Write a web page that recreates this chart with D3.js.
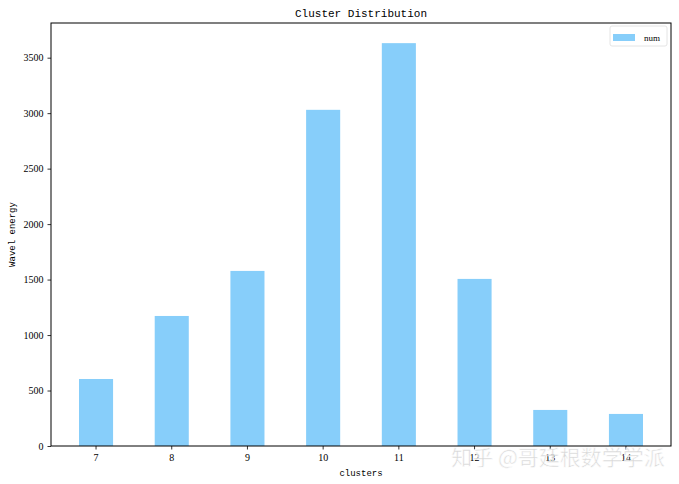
<!DOCTYPE html>
<html>
<head>
<meta charset="utf-8">
<script src="https://cdn.jsdelivr.net/npm/d3@7"></script>
<style>
  body { margin: 0; background: #fff; }
  text { font-family: "Liberation Mono", "DejaVu Sans Mono", monospace; }
</style>
</head>
<body>
<div id="chart"></div>
<script>
// Data
const clusters = ['7', '8', '9', '10', '11', '12', '13', '14']
const num = [604, 1172, 1578, 3030, 3631, 1506, 325, 289]
const yTicks = [0, 500, 1000, 1500, 2000, 2500, 3000, 3500]

// Chart dimensions
const width = 679
const height = 484
const margin = { top: 23, right: 8, bottom: 38, left: 51 }
const graphWidth = width - margin.left - margin.right
const graphHeight = height - margin.top - margin.bottom

const svg = d3.select('#chart')
    .append('svg')
    .attr('width', width)
    .attr('height', height)

const g = svg.append('g')
    .attr('transform', `translate(${margin.left}, ${margin.top})`)

// Scales
const x = d3.scaleBand()
    .domain(clusters)
    .range([0, graphWidth])
    .paddingInner(0.55)
    .paddingOuter(0.37)

const y = d3.scaleLinear()
    .domain([0, d3.max(num) * 1.05])
    .range([graphHeight, 0])

// Bars
g.selectAll('rect.bar')
    .data(clusters)
    .enter()
    .append('rect')
    .attr('class', 'bar')
    .attr('x', d => x(d))
    .attr('y', (d, i) => y(num[i]))
    .attr('width', x.bandwidth())
    .attr('height', (d, i) => graphHeight - y(num[i]))
    .attr('fill', '#87cefa')

// Axes
const xAxis = g.append('g')
    .attr('transform', `translate(0, ${graphHeight})`)
    .call(d3.axisBottom(x).tickSize(3.5).tickSizeOuter(0).tickPadding(4))
const yAxis = g.append('g')
    .call(d3.axisLeft(y).tickValues(yTicks).tickFormat(d3.format('d'))
        .tickSize(3.5).tickSizeOuter(0).tickPadding(4))

;[xAxis, yAxis].forEach(a => {
    a.select('.domain').remove()
    a.selectAll('line').style('stroke', '#000').style('stroke-width', 0.8)
    a.selectAll('text')
        .style('font-size', '10px')
        .style('font-family', '"Liberation Serif", "DejaVu Serif", serif')
        .style('fill', '#000')
})

// Frame
g.append('rect')
    .attr('width', graphWidth)
    .attr('height', graphHeight)
    .attr('fill', 'none')
    .attr('stroke', '#000')
    .attr('stroke-width', 1)

// Title and labels
svg.append('text')
    .attr('x', margin.left + graphWidth / 2)
    .attr('y', 17)
    .attr('text-anchor', 'middle')
    .style('font-size', '11px')
    .text('Cluster Distribution')

svg.append('text')
    .attr('x', margin.left + graphWidth / 2)
    .attr('y', 476)
    .attr('text-anchor', 'middle')
    .style('font-size', '9px')
    .text('clusters')

svg.append('text')
    .attr('transform', `translate(15, ${margin.top + graphHeight / 2}) rotate(-90)`)
    .attr('text-anchor', 'middle')
    .style('font-size', '9px')
    .text('Wavel energy')

// Legend
const legend = svg.append('g')
    .attr('transform', 'translate(610, 26)')
legend.append('rect')
    .attr('width', 57)
    .attr('height', 20)
    .attr('rx', 2)
    .attr('fill', '#fff')
    .attr('stroke', '#ddd')
    .attr('stroke-width', 0.8)
legend.append('rect')
    .attr('x', 3)
    .attr('y', 8)
    .attr('width', 22)
    .attr('height', 7)
    .attr('fill', '#87cefa')
legend.append('text')
    .attr('x', 34)
    .attr('y', 15)
    .style('font-size', '9px')
    .style('font-family', '"Liberation Serif", serif')
    .text('num')

// Watermark
svg.append('text')
    .attr('x', 558)
    .attr('y', 465)
    .attr('text-anchor', 'middle')
    .style('font-family', '"Noto Sans CJK SC", sans-serif')
    .style('font-size', '21px')
    .style('fill', '#d0d0d0')
    .style('stroke', '#fff')
    .style('stroke-width', 0.6)
    .style('opacity', 0.85)
    .text('知乎 @哥廷根数学学派')
</script>
</body>
</html>
